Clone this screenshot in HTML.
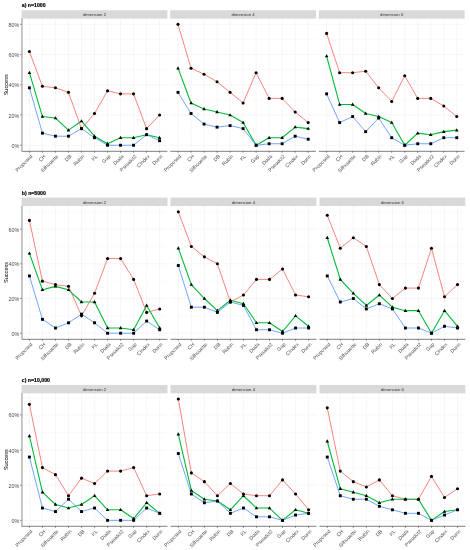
<!DOCTYPE html>
<html><head><meta charset="utf-8"><style>html,body{margin:0;padding:0;background:#fff;}svg{display:block;filter:blur(0.3px);}</style></head>
<body>
<svg width="470" height="550" viewBox="0 0 470 550">
<rect width="470" height="550" fill="#fff"/>
<text x="21.8" y="7.25" font-family="'Liberation Sans', Arial, sans-serif" font-weight="bold" font-size="5.2" fill="#000" stroke="#000" stroke-width="0.18">a) n=1000</text>
<path d="M21.6 130.14H167.4M21.6 99.91H167.4M21.6 69.69H167.4M21.6 39.46H167.4" stroke="#F6F6F6" stroke-width="0.5" fill="none"/>
<path d="M21.6 145.25H167.4M21.6 115.03H167.4M21.6 84.8H167.4M21.6 54.57H167.4M21.6 24.35H167.4M29.41 18.3V151.3M42.43 18.3V151.3M55.45 18.3V151.3M68.46 18.3V151.3M81.48 18.3V151.3M94.5 18.3V151.3M107.52 18.3V151.3M120.54 18.3V151.3M133.55 18.3V151.3M146.57 18.3V151.3M159.59 18.3V151.3" stroke="#F2F2F2" stroke-width="0.7" fill="none"/>
<rect x="21.6" y="10.25" width="145.8" height="8.4" fill="#D9D9D9"/>
<text x="94.5" y="16.27" text-anchor="middle" font-family="'Liberation Sans', Arial, sans-serif" font-size="4.3" fill="#333">dimension 2</text>
<path d="M21.6 151.3H167.4" stroke="#999" stroke-width="1.15" fill="none"/>
<path d="M29.41 151.3v1.4M42.43 151.3v1.4M55.45 151.3v1.4M68.46 151.3v1.4M81.48 151.3v1.4M94.5 151.3v1.4M107.52 151.3v1.4M120.54 151.3v1.4M133.55 151.3v1.4M146.57 151.3v1.4M159.59 151.3v1.4" stroke="#333" stroke-width="0.6" fill="none"/>
<text transform="translate(32.81 156.7) rotate(-45)" text-anchor="end" font-family="'Liberation Sans', Arial, sans-serif" font-size="5.1" fill="#4D4D4D">Proposed</text>
<text transform="translate(45.83 156.7) rotate(-45)" text-anchor="end" font-family="'Liberation Sans', Arial, sans-serif" font-size="5.1" fill="#4D4D4D">CH</text>
<text transform="translate(58.85 156.7) rotate(-45)" text-anchor="end" font-family="'Liberation Sans', Arial, sans-serif" font-size="5.1" fill="#4D4D4D">Silhouette</text>
<text transform="translate(71.86 156.7) rotate(-45)" text-anchor="end" font-family="'Liberation Sans', Arial, sans-serif" font-size="5.1" fill="#4D4D4D">DB</text>
<text transform="translate(84.88 156.7) rotate(-45)" text-anchor="end" font-family="'Liberation Sans', Arial, sans-serif" font-size="5.1" fill="#4D4D4D">Rubin</text>
<text transform="translate(97.9 156.7) rotate(-45)" text-anchor="end" font-family="'Liberation Sans', Arial, sans-serif" font-size="5.1" fill="#4D4D4D">KL</text>
<text transform="translate(110.92 156.7) rotate(-45)" text-anchor="end" font-family="'Liberation Sans', Arial, sans-serif" font-size="5.1" fill="#4D4D4D">Gap</text>
<text transform="translate(123.94 156.7) rotate(-45)" text-anchor="end" font-family="'Liberation Sans', Arial, sans-serif" font-size="5.1" fill="#4D4D4D">Duda</text>
<text transform="translate(136.95 156.7) rotate(-45)" text-anchor="end" font-family="'Liberation Sans', Arial, sans-serif" font-size="5.1" fill="#4D4D4D">Pseudot2</text>
<text transform="translate(149.97 156.7) rotate(-45)" text-anchor="end" font-family="'Liberation Sans', Arial, sans-serif" font-size="5.1" fill="#4D4D4D">Cindex</text>
<text transform="translate(162.99 156.7) rotate(-45)" text-anchor="end" font-family="'Liberation Sans', Arial, sans-serif" font-size="5.1" fill="#4D4D4D">Dunn</text>
<path d="M21.95 18.3V151.3" stroke="#A8A8A8" stroke-width="1.3" fill="none"/>
<text x="19.2" y="147.75" text-anchor="end" font-family="'Liberation Sans', Arial, sans-serif" font-size="5.3999999999999995" fill="#4D4D4D">0%</text>
<text x="19.2" y="117.53" text-anchor="end" font-family="'Liberation Sans', Arial, sans-serif" font-size="5.3999999999999995" fill="#4D4D4D">20%</text>
<text x="19.2" y="87.3" text-anchor="end" font-family="'Liberation Sans', Arial, sans-serif" font-size="5.3999999999999995" fill="#4D4D4D">40%</text>
<text x="19.2" y="57.07" text-anchor="end" font-family="'Liberation Sans', Arial, sans-serif" font-size="5.3999999999999995" fill="#4D4D4D">60%</text>
<text x="19.2" y="26.85" text-anchor="end" font-family="'Liberation Sans', Arial, sans-serif" font-size="5.3999999999999995" fill="#4D4D4D">80%</text>
<path d="M20.2 145.25h1.4M20.2 115.03h1.4M20.2 84.8h1.4M20.2 54.57h1.4M20.2 24.35h1.4" stroke="#333" stroke-width="0.6" fill="none"/>
<text transform="translate(7.9 84.8) rotate(-90)" text-anchor="middle" font-family="'Liberation Sans', Arial, sans-serif" font-size="5.6" fill="#000">Success</text>
<polyline points="29.41,51.55 42.43,86.31 55.45,87.82 68.46,92.36 81.48,128.63 94.5,113.52 107.52,90.85 120.54,93.87 133.55,93.87 146.57,128.63 159.59,115.03" stroke="#F8766D" stroke-width="0.9" fill="none" stroke-linejoin="round"/>
<polyline points="29.41,72.71 42.43,116.54 55.45,118.05 68.46,130.14 81.48,121.07 94.5,136.19 107.52,143.74 120.54,137.7 133.55,137.7 146.57,134.68 159.59,137.7" stroke="#00BA38" stroke-width="1.1" fill="none" stroke-linejoin="round"/>
<polyline points="29.41,87.82 42.43,133.16 55.45,136.19 68.46,136.19 81.48,128.63 94.5,137.7 107.52,145.25 120.54,145.25 133.55,145.25 146.57,134.68 159.59,140.72" stroke="#619CFF" stroke-width="0.9" fill="none" stroke-linejoin="round"/>
<circle cx="29.41" cy="51.55" r="1.55"/>
<circle cx="42.43" cy="86.31" r="1.55"/>
<circle cx="55.45" cy="87.82" r="1.55"/>
<circle cx="68.46" cy="92.36" r="1.55"/>
<circle cx="81.48" cy="128.63" r="1.55"/>
<circle cx="94.5" cy="113.52" r="1.55"/>
<circle cx="107.52" cy="90.85" r="1.55"/>
<circle cx="120.54" cy="93.87" r="1.55"/>
<circle cx="133.55" cy="93.87" r="1.55"/>
<circle cx="146.57" cy="128.63" r="1.55"/>
<circle cx="159.59" cy="115.03" r="1.55"/>
<path d="M29.41 70.81L31.22 73.94L27.61 73.94Z"/>
<path d="M42.43 114.64L44.23 117.77L40.62 117.77Z"/>
<path d="M55.45 116.15L57.25 119.29L53.64 119.29Z"/>
<path d="M68.46 128.24L70.27 131.38L66.66 131.38Z"/>
<path d="M81.48 119.17L83.29 122.31L79.68 122.31Z"/>
<path d="M94.5 134.29L96.31 137.42L92.69 137.42Z"/>
<path d="M107.52 141.84L109.32 144.98L105.71 144.98Z"/>
<path d="M120.54 135.8L122.34 138.93L118.73 138.93Z"/>
<path d="M133.55 135.8L135.36 138.93L131.75 138.93Z"/>
<path d="M146.57 132.78L148.38 135.91L144.77 135.91Z"/>
<path d="M159.59 135.8L161.39 138.93L157.78 138.93Z"/>
<rect x="27.96" y="86.37" width="2.9" height="2.9"/>
<rect x="40.98" y="131.71" width="2.9" height="2.9"/>
<rect x="54" y="134.74" width="2.9" height="2.9"/>
<rect x="67.01" y="134.74" width="2.9" height="2.9"/>
<rect x="80.03" y="127.18" width="2.9" height="2.9"/>
<rect x="93.05" y="136.25" width="2.9" height="2.9"/>
<rect x="106.07" y="143.8" width="2.9" height="2.9"/>
<rect x="119.09" y="143.8" width="2.9" height="2.9"/>
<rect x="132.1" y="143.8" width="2.9" height="2.9"/>
<rect x="145.12" y="133.23" width="2.9" height="2.9"/>
<rect x="158.14" y="139.27" width="2.9" height="2.9"/>
<path d="M170.2 130.14H316M170.2 99.91H316M170.2 69.69H316M170.2 39.46H316" stroke="#F6F6F6" stroke-width="0.5" fill="none"/>
<path d="M170.2 145.25H316M170.2 115.03H316M170.2 84.8H316M170.2 54.57H316M170.2 24.35H316M178.01 18.3V151.3M191.03 18.3V151.3M204.05 18.3V151.3M217.06 18.3V151.3M230.08 18.3V151.3M243.1 18.3V151.3M256.12 18.3V151.3M269.14 18.3V151.3M282.15 18.3V151.3M295.17 18.3V151.3M308.19 18.3V151.3" stroke="#F2F2F2" stroke-width="0.7" fill="none"/>
<rect x="170.2" y="10.25" width="145.8" height="8.4" fill="#D9D9D9"/>
<text x="243.1" y="16.27" text-anchor="middle" font-family="'Liberation Sans', Arial, sans-serif" font-size="4.3" fill="#333">dimension 4</text>
<path d="M170.2 151.3H316" stroke="#999" stroke-width="1.15" fill="none"/>
<path d="M178.01 151.3v1.4M191.03 151.3v1.4M204.05 151.3v1.4M217.06 151.3v1.4M230.08 151.3v1.4M243.1 151.3v1.4M256.12 151.3v1.4M269.14 151.3v1.4M282.15 151.3v1.4M295.17 151.3v1.4M308.19 151.3v1.4" stroke="#333" stroke-width="0.6" fill="none"/>
<text transform="translate(181.41 156.7) rotate(-45)" text-anchor="end" font-family="'Liberation Sans', Arial, sans-serif" font-size="5.1" fill="#4D4D4D">Proposed</text>
<text transform="translate(194.43 156.7) rotate(-45)" text-anchor="end" font-family="'Liberation Sans', Arial, sans-serif" font-size="5.1" fill="#4D4D4D">CH</text>
<text transform="translate(207.45 156.7) rotate(-45)" text-anchor="end" font-family="'Liberation Sans', Arial, sans-serif" font-size="5.1" fill="#4D4D4D">Silhouette</text>
<text transform="translate(220.46 156.7) rotate(-45)" text-anchor="end" font-family="'Liberation Sans', Arial, sans-serif" font-size="5.1" fill="#4D4D4D">DB</text>
<text transform="translate(233.48 156.7) rotate(-45)" text-anchor="end" font-family="'Liberation Sans', Arial, sans-serif" font-size="5.1" fill="#4D4D4D">Rubin</text>
<text transform="translate(246.5 156.7) rotate(-45)" text-anchor="end" font-family="'Liberation Sans', Arial, sans-serif" font-size="5.1" fill="#4D4D4D">KL</text>
<text transform="translate(259.52 156.7) rotate(-45)" text-anchor="end" font-family="'Liberation Sans', Arial, sans-serif" font-size="5.1" fill="#4D4D4D">Gap</text>
<text transform="translate(272.54 156.7) rotate(-45)" text-anchor="end" font-family="'Liberation Sans', Arial, sans-serif" font-size="5.1" fill="#4D4D4D">Duda</text>
<text transform="translate(285.55 156.7) rotate(-45)" text-anchor="end" font-family="'Liberation Sans', Arial, sans-serif" font-size="5.1" fill="#4D4D4D">Pseudot2</text>
<text transform="translate(298.57 156.7) rotate(-45)" text-anchor="end" font-family="'Liberation Sans', Arial, sans-serif" font-size="5.1" fill="#4D4D4D">Cindex</text>
<text transform="translate(311.59 156.7) rotate(-45)" text-anchor="end" font-family="'Liberation Sans', Arial, sans-serif" font-size="5.1" fill="#4D4D4D">Dunn</text>
<polyline points="178.01,24.35 191.03,68.18 204.05,74.22 217.06,81.78 230.08,92.36 243.1,102.94 256.12,72.71 269.14,98.4 282.15,98.4 295.17,112 308.19,122.58" stroke="#F8766D" stroke-width="0.9" fill="none" stroke-linejoin="round"/>
<polyline points="178.01,68.18 191.03,102.94 204.05,108.98 217.06,112 230.08,115.03 243.1,122.58 256.12,145.25 269.14,137.7 282.15,137.7 295.17,127.12 308.19,128.63" stroke="#00BA38" stroke-width="1.1" fill="none" stroke-linejoin="round"/>
<polyline points="178.01,92.36 191.03,113.52 204.05,124.1 217.06,127.12 230.08,125.61 243.1,128.63 256.12,145.25 269.14,143.74 282.15,143.74 295.17,136.19 308.19,139.21" stroke="#619CFF" stroke-width="0.9" fill="none" stroke-linejoin="round"/>
<circle cx="178.01" cy="24.35" r="1.55"/>
<circle cx="191.03" cy="68.18" r="1.55"/>
<circle cx="204.05" cy="74.22" r="1.55"/>
<circle cx="217.06" cy="81.78" r="1.55"/>
<circle cx="230.08" cy="92.36" r="1.55"/>
<circle cx="243.1" cy="102.94" r="1.55"/>
<circle cx="256.12" cy="72.71" r="1.55"/>
<circle cx="269.14" cy="98.4" r="1.55"/>
<circle cx="282.15" cy="98.4" r="1.55"/>
<circle cx="295.17" cy="112" r="1.55"/>
<circle cx="308.19" cy="122.58" r="1.55"/>
<path d="M178.01 66.28L179.82 69.41L176.21 69.41Z"/>
<path d="M191.03 101.04L192.83 104.17L189.22 104.17Z"/>
<path d="M204.05 107.08L205.85 110.22L202.24 110.22Z"/>
<path d="M217.06 110.1L218.87 113.24L215.26 113.24Z"/>
<path d="M230.08 113.13L231.89 116.26L228.28 116.26Z"/>
<path d="M243.1 120.68L244.91 123.82L241.29 123.82Z"/>
<path d="M256.12 143.35L257.92 146.49L254.31 146.49Z"/>
<path d="M269.14 135.8L270.94 138.93L267.33 138.93Z"/>
<path d="M282.15 135.8L283.96 138.93L280.35 138.93Z"/>
<path d="M295.17 125.22L296.98 128.35L293.37 128.35Z"/>
<path d="M308.19 126.73L309.99 129.86L306.38 129.86Z"/>
<rect x="176.56" y="90.91" width="2.9" height="2.9"/>
<rect x="189.58" y="112.07" width="2.9" height="2.9"/>
<rect x="202.6" y="122.65" width="2.9" height="2.9"/>
<rect x="215.61" y="125.67" width="2.9" height="2.9"/>
<rect x="228.63" y="124.16" width="2.9" height="2.9"/>
<rect x="241.65" y="127.18" width="2.9" height="2.9"/>
<rect x="254.67" y="143.8" width="2.9" height="2.9"/>
<rect x="267.69" y="142.29" width="2.9" height="2.9"/>
<rect x="280.7" y="142.29" width="2.9" height="2.9"/>
<rect x="293.72" y="134.74" width="2.9" height="2.9"/>
<rect x="306.74" y="137.76" width="2.9" height="2.9"/>
<path d="M318.8 130.14H464.6M318.8 99.91H464.6M318.8 69.69H464.6M318.8 39.46H464.6" stroke="#F6F6F6" stroke-width="0.5" fill="none"/>
<path d="M318.8 145.25H464.6M318.8 115.03H464.6M318.8 84.8H464.6M318.8 54.57H464.6M318.8 24.35H464.6M326.61 18.3V151.3M339.63 18.3V151.3M352.65 18.3V151.3M365.66 18.3V151.3M378.68 18.3V151.3M391.7 18.3V151.3M404.72 18.3V151.3M417.74 18.3V151.3M430.75 18.3V151.3M443.77 18.3V151.3M456.79 18.3V151.3" stroke="#F2F2F2" stroke-width="0.7" fill="none"/>
<rect x="318.8" y="10.25" width="145.8" height="8.4" fill="#D9D9D9"/>
<text x="391.7" y="16.27" text-anchor="middle" font-family="'Liberation Sans', Arial, sans-serif" font-size="4.3" fill="#333">dimension 6</text>
<path d="M318.8 151.3H464.6" stroke="#999" stroke-width="1.15" fill="none"/>
<path d="M326.61 151.3v1.4M339.63 151.3v1.4M352.65 151.3v1.4M365.66 151.3v1.4M378.68 151.3v1.4M391.7 151.3v1.4M404.72 151.3v1.4M417.74 151.3v1.4M430.75 151.3v1.4M443.77 151.3v1.4M456.79 151.3v1.4" stroke="#333" stroke-width="0.6" fill="none"/>
<text transform="translate(330.01 156.7) rotate(-45)" text-anchor="end" font-family="'Liberation Sans', Arial, sans-serif" font-size="5.1" fill="#4D4D4D">Proposed</text>
<text transform="translate(343.03 156.7) rotate(-45)" text-anchor="end" font-family="'Liberation Sans', Arial, sans-serif" font-size="5.1" fill="#4D4D4D">CH</text>
<text transform="translate(356.05 156.7) rotate(-45)" text-anchor="end" font-family="'Liberation Sans', Arial, sans-serif" font-size="5.1" fill="#4D4D4D">Silhouette</text>
<text transform="translate(369.06 156.7) rotate(-45)" text-anchor="end" font-family="'Liberation Sans', Arial, sans-serif" font-size="5.1" fill="#4D4D4D">DB</text>
<text transform="translate(382.08 156.7) rotate(-45)" text-anchor="end" font-family="'Liberation Sans', Arial, sans-serif" font-size="5.1" fill="#4D4D4D">Rubin</text>
<text transform="translate(395.1 156.7) rotate(-45)" text-anchor="end" font-family="'Liberation Sans', Arial, sans-serif" font-size="5.1" fill="#4D4D4D">KL</text>
<text transform="translate(408.12 156.7) rotate(-45)" text-anchor="end" font-family="'Liberation Sans', Arial, sans-serif" font-size="5.1" fill="#4D4D4D">Gap</text>
<text transform="translate(421.14 156.7) rotate(-45)" text-anchor="end" font-family="'Liberation Sans', Arial, sans-serif" font-size="5.1" fill="#4D4D4D">Duda</text>
<text transform="translate(434.15 156.7) rotate(-45)" text-anchor="end" font-family="'Liberation Sans', Arial, sans-serif" font-size="5.1" fill="#4D4D4D">Pseudot2</text>
<text transform="translate(447.17 156.7) rotate(-45)" text-anchor="end" font-family="'Liberation Sans', Arial, sans-serif" font-size="5.1" fill="#4D4D4D">Cindex</text>
<text transform="translate(460.19 156.7) rotate(-45)" text-anchor="end" font-family="'Liberation Sans', Arial, sans-serif" font-size="5.1" fill="#4D4D4D">Dunn</text>
<polyline points="326.61,33.41 339.63,72.71 352.65,72.71 365.66,71.2 378.68,87.82 391.7,101.43 404.72,75.73 417.74,98.4 430.75,98.4 443.77,105.96 456.79,116.54" stroke="#F8766D" stroke-width="0.9" fill="none" stroke-linejoin="round"/>
<polyline points="326.61,56.08 339.63,104.45 352.65,104.45 365.66,113.52 378.68,116.54 391.7,122.58 404.72,145.25 417.74,133.16 430.75,134.68 443.77,131.65 456.79,130.14" stroke="#00BA38" stroke-width="1.1" fill="none" stroke-linejoin="round"/>
<polyline points="326.61,93.87 339.63,122.58 352.65,116.54 365.66,131.65 378.68,118.05 391.7,137.7 404.72,145.25 417.74,143.74 430.75,143.74 443.77,137.7 456.79,137.7" stroke="#619CFF" stroke-width="0.9" fill="none" stroke-linejoin="round"/>
<circle cx="326.61" cy="33.41" r="1.55"/>
<circle cx="339.63" cy="72.71" r="1.55"/>
<circle cx="352.65" cy="72.71" r="1.55"/>
<circle cx="365.66" cy="71.2" r="1.55"/>
<circle cx="378.68" cy="87.82" r="1.55"/>
<circle cx="391.7" cy="101.43" r="1.55"/>
<circle cx="404.72" cy="75.73" r="1.55"/>
<circle cx="417.74" cy="98.4" r="1.55"/>
<circle cx="430.75" cy="98.4" r="1.55"/>
<circle cx="443.77" cy="105.96" r="1.55"/>
<circle cx="456.79" cy="116.54" r="1.55"/>
<path d="M326.61 54.18L328.42 57.32L324.81 57.32Z"/>
<path d="M339.63 102.55L341.43 105.68L337.82 105.68Z"/>
<path d="M352.65 102.55L354.45 105.68L350.84 105.68Z"/>
<path d="M365.66 111.62L367.47 114.75L363.86 114.75Z"/>
<path d="M378.68 114.64L380.49 117.77L376.88 117.77Z"/>
<path d="M391.7 120.68L393.51 123.82L389.9 123.82Z"/>
<path d="M404.72 143.35L406.52 146.49L402.91 146.49Z"/>
<path d="M417.74 131.26L419.54 134.4L415.93 134.4Z"/>
<path d="M430.75 132.78L432.56 135.91L428.95 135.91Z"/>
<path d="M443.77 129.75L445.58 132.89L441.97 132.89Z"/>
<path d="M456.79 128.24L458.59 131.38L454.98 131.38Z"/>
<rect x="325.16" y="92.42" width="2.9" height="2.9"/>
<rect x="338.18" y="121.13" width="2.9" height="2.9"/>
<rect x="351.2" y="115.09" width="2.9" height="2.9"/>
<rect x="364.21" y="130.2" width="2.9" height="2.9"/>
<rect x="377.23" y="116.6" width="2.9" height="2.9"/>
<rect x="390.25" y="136.25" width="2.9" height="2.9"/>
<rect x="403.27" y="143.8" width="2.9" height="2.9"/>
<rect x="416.29" y="142.29" width="2.9" height="2.9"/>
<rect x="429.3" y="142.29" width="2.9" height="2.9"/>
<rect x="442.32" y="136.25" width="2.9" height="2.9"/>
<rect x="455.34" y="136.25" width="2.9" height="2.9"/>
<text x="21.8" y="194.6" font-family="'Liberation Sans', Arial, sans-serif" font-weight="bold" font-size="5.2" fill="#000" stroke="#000" stroke-width="0.18">b) n=5000</text>
<path d="M21.6 315.87H167.5M21.6 281.15H167.5M21.6 246.44H167.5M21.6 211.72H167.5" stroke="#F6F6F6" stroke-width="0.5" fill="none"/>
<path d="M21.6 333.23H167.5M21.6 298.51H167.5M21.6 263.8H167.5M21.6 229.08H167.5M29.42 205.65V339.3M42.44 205.65V339.3M55.47 205.65V339.3M68.5 205.65V339.3M81.52 205.65V339.3M94.55 205.65V339.3M107.58 205.65V339.3M120.6 205.65V339.3M133.63 205.65V339.3M146.66 205.65V339.3M159.68 205.65V339.3" stroke="#F2F2F2" stroke-width="0.7" fill="none"/>
<rect x="21.6" y="197.6" width="145.9" height="8.4" fill="#D9D9D9"/>
<text x="94.55" y="203.62" text-anchor="middle" font-family="'Liberation Sans', Arial, sans-serif" font-size="4.3" fill="#333">dimension 2</text>
<path d="M21.6 339.3H167.5" stroke="#999" stroke-width="1.15" fill="none"/>
<path d="M29.42 339.3v1.4M42.44 339.3v1.4M55.47 339.3v1.4M68.5 339.3v1.4M81.52 339.3v1.4M94.55 339.3v1.4M107.58 339.3v1.4M120.6 339.3v1.4M133.63 339.3v1.4M146.66 339.3v1.4M159.68 339.3v1.4" stroke="#333" stroke-width="0.6" fill="none"/>
<text transform="translate(32.82 344.7) rotate(-45)" text-anchor="end" font-family="'Liberation Sans', Arial, sans-serif" font-size="5.1" fill="#4D4D4D">Proposed</text>
<text transform="translate(45.84 344.7) rotate(-45)" text-anchor="end" font-family="'Liberation Sans', Arial, sans-serif" font-size="5.1" fill="#4D4D4D">CH</text>
<text transform="translate(58.87 344.7) rotate(-45)" text-anchor="end" font-family="'Liberation Sans', Arial, sans-serif" font-size="5.1" fill="#4D4D4D">Silhouette</text>
<text transform="translate(71.9 344.7) rotate(-45)" text-anchor="end" font-family="'Liberation Sans', Arial, sans-serif" font-size="5.1" fill="#4D4D4D">DB</text>
<text transform="translate(84.92 344.7) rotate(-45)" text-anchor="end" font-family="'Liberation Sans', Arial, sans-serif" font-size="5.1" fill="#4D4D4D">Rubin</text>
<text transform="translate(97.95 344.7) rotate(-45)" text-anchor="end" font-family="'Liberation Sans', Arial, sans-serif" font-size="5.1" fill="#4D4D4D">KL</text>
<text transform="translate(110.98 344.7) rotate(-45)" text-anchor="end" font-family="'Liberation Sans', Arial, sans-serif" font-size="5.1" fill="#4D4D4D">Duda</text>
<text transform="translate(124 344.7) rotate(-45)" text-anchor="end" font-family="'Liberation Sans', Arial, sans-serif" font-size="5.1" fill="#4D4D4D">Pseudot2</text>
<text transform="translate(137.03 344.7) rotate(-45)" text-anchor="end" font-family="'Liberation Sans', Arial, sans-serif" font-size="5.1" fill="#4D4D4D">Gap</text>
<text transform="translate(150.06 344.7) rotate(-45)" text-anchor="end" font-family="'Liberation Sans', Arial, sans-serif" font-size="5.1" fill="#4D4D4D">Cindex</text>
<text transform="translate(163.08 344.7) rotate(-45)" text-anchor="end" font-family="'Liberation Sans', Arial, sans-serif" font-size="5.1" fill="#4D4D4D">Dunn</text>
<path d="M21.95 205.65V339.3" stroke="#A8A8A8" stroke-width="1.3" fill="none"/>
<text x="19.2" y="335.73" text-anchor="end" font-family="'Liberation Sans', Arial, sans-serif" font-size="5.3999999999999995" fill="#4D4D4D">0%</text>
<text x="19.2" y="301.01" text-anchor="end" font-family="'Liberation Sans', Arial, sans-serif" font-size="5.3999999999999995" fill="#4D4D4D">20%</text>
<text x="19.2" y="266.3" text-anchor="end" font-family="'Liberation Sans', Arial, sans-serif" font-size="5.3999999999999995" fill="#4D4D4D">40%</text>
<text x="19.2" y="231.58" text-anchor="end" font-family="'Liberation Sans', Arial, sans-serif" font-size="5.3999999999999995" fill="#4D4D4D">60%</text>
<path d="M20.2 333.23h1.4M20.2 298.51h1.4M20.2 263.8h1.4M20.2 229.08h1.4" stroke="#333" stroke-width="0.6" fill="none"/>
<text transform="translate(7.9 272.48) rotate(-90)" text-anchor="middle" font-family="'Liberation Sans', Arial, sans-serif" font-size="5.6" fill="#000">Success</text>
<polyline points="29.42,220.4 42.44,281.15 55.47,284.62 68.5,286.36 81.52,315.87 94.55,293.3 107.58,258.59 120.6,258.59 133.63,279.42 146.66,312.4 159.68,308.93" stroke="#F8766D" stroke-width="0.9" fill="none" stroke-linejoin="round"/>
<polyline points="29.42,253.38 42.44,289.83 55.47,286.36 68.5,289.83 81.52,301.98 94.55,301.98 107.58,328.02 120.6,328.02 133.63,329.75 146.66,305.45 159.68,328.02" stroke="#00BA38" stroke-width="1.1" fill="none" stroke-linejoin="round"/>
<polyline points="29.42,275.95 42.44,319.34 55.47,328.02 68.5,322.81 81.52,314.13 94.55,322.81 107.58,333.23 120.6,333.23 133.63,333.23 146.66,321.07 159.68,329.75" stroke="#619CFF" stroke-width="0.9" fill="none" stroke-linejoin="round"/>
<circle cx="29.42" cy="220.4" r="1.55"/>
<circle cx="42.44" cy="281.15" r="1.55"/>
<circle cx="55.47" cy="284.62" r="1.55"/>
<circle cx="68.5" cy="286.36" r="1.55"/>
<circle cx="81.52" cy="315.87" r="1.55"/>
<circle cx="94.55" cy="293.3" r="1.55"/>
<circle cx="107.58" cy="258.59" r="1.55"/>
<circle cx="120.6" cy="258.59" r="1.55"/>
<circle cx="133.63" cy="279.42" r="1.55"/>
<circle cx="146.66" cy="312.4" r="1.55"/>
<circle cx="159.68" cy="308.93" r="1.55"/>
<path d="M29.42 251.48L31.22 254.62L27.61 254.62Z"/>
<path d="M42.44 287.93L44.25 291.07L40.64 291.07Z"/>
<path d="M55.47 284.46L57.27 287.6L53.66 287.6Z"/>
<path d="M68.5 287.93L70.3 291.07L66.69 291.07Z"/>
<path d="M81.52 300.08L83.33 303.22L79.72 303.22Z"/>
<path d="M94.55 300.08L96.36 303.22L92.75 303.22Z"/>
<path d="M107.58 326.12L109.38 329.25L105.77 329.25Z"/>
<path d="M120.6 326.12L122.41 329.25L118.8 329.25Z"/>
<path d="M133.63 327.85L135.44 330.99L131.83 330.99Z"/>
<path d="M146.66 303.55L148.46 306.69L144.85 306.69Z"/>
<path d="M159.68 326.12L161.49 329.25L157.88 329.25Z"/>
<rect x="27.97" y="274.5" width="2.9" height="2.9"/>
<rect x="40.99" y="317.89" width="2.9" height="2.9"/>
<rect x="54.02" y="326.57" width="2.9" height="2.9"/>
<rect x="67.05" y="321.36" width="2.9" height="2.9"/>
<rect x="80.07" y="312.68" width="2.9" height="2.9"/>
<rect x="93.1" y="321.36" width="2.9" height="2.9"/>
<rect x="106.13" y="331.78" width="2.9" height="2.9"/>
<rect x="119.15" y="331.78" width="2.9" height="2.9"/>
<rect x="132.18" y="331.78" width="2.9" height="2.9"/>
<rect x="145.21" y="319.62" width="2.9" height="2.9"/>
<rect x="158.23" y="328.3" width="2.9" height="2.9"/>
<path d="M170.5 315.87H316.4M170.5 281.15H316.4M170.5 246.44H316.4M170.5 211.72H316.4" stroke="#F6F6F6" stroke-width="0.5" fill="none"/>
<path d="M170.5 333.23H316.4M170.5 298.51H316.4M170.5 263.8H316.4M170.5 229.08H316.4M178.32 205.65V339.3M191.34 205.65V339.3M204.37 205.65V339.3M217.4 205.65V339.3M230.42 205.65V339.3M243.45 205.65V339.3M256.48 205.65V339.3M269.5 205.65V339.3M282.53 205.65V339.3M295.56 205.65V339.3M308.58 205.65V339.3" stroke="#F2F2F2" stroke-width="0.7" fill="none"/>
<rect x="170.5" y="197.6" width="145.9" height="8.4" fill="#D9D9D9"/>
<text x="243.45" y="203.62" text-anchor="middle" font-family="'Liberation Sans', Arial, sans-serif" font-size="4.3" fill="#333">dimension 4</text>
<path d="M170.5 339.3H316.4" stroke="#999" stroke-width="1.15" fill="none"/>
<path d="M178.32 339.3v1.4M191.34 339.3v1.4M204.37 339.3v1.4M217.4 339.3v1.4M230.42 339.3v1.4M243.45 339.3v1.4M256.48 339.3v1.4M269.5 339.3v1.4M282.53 339.3v1.4M295.56 339.3v1.4M308.58 339.3v1.4" stroke="#333" stroke-width="0.6" fill="none"/>
<text transform="translate(181.72 344.7) rotate(-45)" text-anchor="end" font-family="'Liberation Sans', Arial, sans-serif" font-size="5.1" fill="#4D4D4D">Proposed</text>
<text transform="translate(194.74 344.7) rotate(-45)" text-anchor="end" font-family="'Liberation Sans', Arial, sans-serif" font-size="5.1" fill="#4D4D4D">CH</text>
<text transform="translate(207.77 344.7) rotate(-45)" text-anchor="end" font-family="'Liberation Sans', Arial, sans-serif" font-size="5.1" fill="#4D4D4D">Silhouette</text>
<text transform="translate(220.8 344.7) rotate(-45)" text-anchor="end" font-family="'Liberation Sans', Arial, sans-serif" font-size="5.1" fill="#4D4D4D">DB</text>
<text transform="translate(233.82 344.7) rotate(-45)" text-anchor="end" font-family="'Liberation Sans', Arial, sans-serif" font-size="5.1" fill="#4D4D4D">Rubin</text>
<text transform="translate(246.85 344.7) rotate(-45)" text-anchor="end" font-family="'Liberation Sans', Arial, sans-serif" font-size="5.1" fill="#4D4D4D">KL</text>
<text transform="translate(259.88 344.7) rotate(-45)" text-anchor="end" font-family="'Liberation Sans', Arial, sans-serif" font-size="5.1" fill="#4D4D4D">Duda</text>
<text transform="translate(272.9 344.7) rotate(-45)" text-anchor="end" font-family="'Liberation Sans', Arial, sans-serif" font-size="5.1" fill="#4D4D4D">Pseudot2</text>
<text transform="translate(285.93 344.7) rotate(-45)" text-anchor="end" font-family="'Liberation Sans', Arial, sans-serif" font-size="5.1" fill="#4D4D4D">Gap</text>
<text transform="translate(298.96 344.7) rotate(-45)" text-anchor="end" font-family="'Liberation Sans', Arial, sans-serif" font-size="5.1" fill="#4D4D4D">Cindex</text>
<text transform="translate(311.98 344.7) rotate(-45)" text-anchor="end" font-family="'Liberation Sans', Arial, sans-serif" font-size="5.1" fill="#4D4D4D">Dunn</text>
<polyline points="178.32,211.72 191.34,246.44 204.37,256.85 217.4,263.8 230.42,301.98 243.45,295.04 256.48,279.42 269.5,279.42 282.53,269 295.56,295.04 308.58,296.78" stroke="#F8766D" stroke-width="0.9" fill="none" stroke-linejoin="round"/>
<polyline points="178.32,248.18 191.34,284.62 204.37,298.51 217.4,310.66 230.42,300.25 243.45,303.72 256.48,322.81 269.5,322.81 282.53,331.49 295.56,315.87 308.58,326.28" stroke="#00BA38" stroke-width="1.1" fill="none" stroke-linejoin="round"/>
<polyline points="178.32,265.53 191.34,307.19 204.37,307.19 217.4,312.4 230.42,301.98 243.45,305.45 256.48,329.75 269.5,329.75 282.53,333.23 295.56,328.02 308.58,328.02" stroke="#619CFF" stroke-width="0.9" fill="none" stroke-linejoin="round"/>
<circle cx="178.32" cy="211.72" r="1.55"/>
<circle cx="191.34" cy="246.44" r="1.55"/>
<circle cx="204.37" cy="256.85" r="1.55"/>
<circle cx="217.4" cy="263.8" r="1.55"/>
<circle cx="230.42" cy="301.98" r="1.55"/>
<circle cx="243.45" cy="295.04" r="1.55"/>
<circle cx="256.48" cy="279.42" r="1.55"/>
<circle cx="269.5" cy="279.42" r="1.55"/>
<circle cx="282.53" cy="269" r="1.55"/>
<circle cx="295.56" cy="295.04" r="1.55"/>
<circle cx="308.58" cy="296.78" r="1.55"/>
<path d="M178.32 246.28L180.12 249.41L176.51 249.41Z"/>
<path d="M191.34 282.73L193.15 285.86L189.54 285.86Z"/>
<path d="M204.37 296.61L206.17 299.75L202.56 299.75Z"/>
<path d="M217.4 308.76L219.2 311.9L215.59 311.9Z"/>
<path d="M230.42 298.35L232.23 301.48L228.62 301.48Z"/>
<path d="M243.45 301.82L245.25 304.95L241.64 304.95Z"/>
<path d="M256.48 320.91L258.28 324.05L254.67 324.05Z"/>
<path d="M269.5 320.91L271.31 324.05L267.7 324.05Z"/>
<path d="M282.53 329.59L284.34 332.72L280.73 332.72Z"/>
<path d="M295.56 313.97L297.36 317.1L293.75 317.1Z"/>
<path d="M308.58 324.38L310.39 327.52L306.78 327.52Z"/>
<rect x="176.87" y="264.08" width="2.9" height="2.9"/>
<rect x="189.89" y="305.74" width="2.9" height="2.9"/>
<rect x="202.92" y="305.74" width="2.9" height="2.9"/>
<rect x="215.95" y="310.95" width="2.9" height="2.9"/>
<rect x="228.97" y="300.53" width="2.9" height="2.9"/>
<rect x="242" y="304" width="2.9" height="2.9"/>
<rect x="255.03" y="328.3" width="2.9" height="2.9"/>
<rect x="268.05" y="328.3" width="2.9" height="2.9"/>
<rect x="281.08" y="331.78" width="2.9" height="2.9"/>
<rect x="294.11" y="326.57" width="2.9" height="2.9"/>
<rect x="307.13" y="326.57" width="2.9" height="2.9"/>
<path d="M319.45 315.87H465.35M319.45 281.15H465.35M319.45 246.44H465.35M319.45 211.72H465.35" stroke="#F6F6F6" stroke-width="0.5" fill="none"/>
<path d="M319.45 333.23H465.35M319.45 298.51H465.35M319.45 263.8H465.35M319.45 229.08H465.35M327.27 205.65V339.3M340.29 205.65V339.3M353.32 205.65V339.3M366.35 205.65V339.3M379.37 205.65V339.3M392.4 205.65V339.3M405.43 205.65V339.3M418.45 205.65V339.3M431.48 205.65V339.3M444.51 205.65V339.3M457.53 205.65V339.3" stroke="#F2F2F2" stroke-width="0.7" fill="none"/>
<rect x="319.45" y="197.6" width="145.9" height="8.4" fill="#D9D9D9"/>
<text x="392.4" y="203.62" text-anchor="middle" font-family="'Liberation Sans', Arial, sans-serif" font-size="4.3" fill="#333">dimension 6</text>
<path d="M319.45 339.3H465.35" stroke="#999" stroke-width="1.15" fill="none"/>
<path d="M327.27 339.3v1.4M340.29 339.3v1.4M353.32 339.3v1.4M366.35 339.3v1.4M379.37 339.3v1.4M392.4 339.3v1.4M405.43 339.3v1.4M418.45 339.3v1.4M431.48 339.3v1.4M444.51 339.3v1.4M457.53 339.3v1.4" stroke="#333" stroke-width="0.6" fill="none"/>
<text transform="translate(330.67 344.7) rotate(-45)" text-anchor="end" font-family="'Liberation Sans', Arial, sans-serif" font-size="5.1" fill="#4D4D4D">Proposed</text>
<text transform="translate(343.69 344.7) rotate(-45)" text-anchor="end" font-family="'Liberation Sans', Arial, sans-serif" font-size="5.1" fill="#4D4D4D">CH</text>
<text transform="translate(356.72 344.7) rotate(-45)" text-anchor="end" font-family="'Liberation Sans', Arial, sans-serif" font-size="5.1" fill="#4D4D4D">Silhouette</text>
<text transform="translate(369.75 344.7) rotate(-45)" text-anchor="end" font-family="'Liberation Sans', Arial, sans-serif" font-size="5.1" fill="#4D4D4D">DB</text>
<text transform="translate(382.77 344.7) rotate(-45)" text-anchor="end" font-family="'Liberation Sans', Arial, sans-serif" font-size="5.1" fill="#4D4D4D">Rubin</text>
<text transform="translate(395.8 344.7) rotate(-45)" text-anchor="end" font-family="'Liberation Sans', Arial, sans-serif" font-size="5.1" fill="#4D4D4D">KL</text>
<text transform="translate(408.83 344.7) rotate(-45)" text-anchor="end" font-family="'Liberation Sans', Arial, sans-serif" font-size="5.1" fill="#4D4D4D">Duda</text>
<text transform="translate(421.85 344.7) rotate(-45)" text-anchor="end" font-family="'Liberation Sans', Arial, sans-serif" font-size="5.1" fill="#4D4D4D">Pseudot2</text>
<text transform="translate(434.88 344.7) rotate(-45)" text-anchor="end" font-family="'Liberation Sans', Arial, sans-serif" font-size="5.1" fill="#4D4D4D">Gap</text>
<text transform="translate(447.91 344.7) rotate(-45)" text-anchor="end" font-family="'Liberation Sans', Arial, sans-serif" font-size="5.1" fill="#4D4D4D">Cindex</text>
<text transform="translate(460.93 344.7) rotate(-45)" text-anchor="end" font-family="'Liberation Sans', Arial, sans-serif" font-size="5.1" fill="#4D4D4D">Dunn</text>
<polyline points="327.27,215.2 340.29,248.18 353.32,237.76 366.35,246.44 379.37,284.62 392.4,298.51 405.43,288.1 418.45,288.1 431.48,248.18 444.51,296.78 457.53,284.62" stroke="#F8766D" stroke-width="0.9" fill="none" stroke-linejoin="round"/>
<polyline points="327.27,237.76 340.29,279.42 353.32,293.3 366.35,305.45 379.37,295.04 392.4,307.19 405.43,310.66 418.45,310.66 431.48,333.23 444.51,310.66 457.53,326.28" stroke="#00BA38" stroke-width="1.1" fill="none" stroke-linejoin="round"/>
<polyline points="327.27,275.95 340.29,301.98 353.32,298.51 366.35,308.93 379.37,303.72 392.4,308.93 405.43,328.02 418.45,328.02 431.48,333.23 444.51,326.28 457.53,328.02" stroke="#619CFF" stroke-width="0.9" fill="none" stroke-linejoin="round"/>
<circle cx="327.27" cy="215.2" r="1.55"/>
<circle cx="340.29" cy="248.18" r="1.55"/>
<circle cx="353.32" cy="237.76" r="1.55"/>
<circle cx="366.35" cy="246.44" r="1.55"/>
<circle cx="379.37" cy="284.62" r="1.55"/>
<circle cx="392.4" cy="298.51" r="1.55"/>
<circle cx="405.43" cy="288.1" r="1.55"/>
<circle cx="418.45" cy="288.1" r="1.55"/>
<circle cx="431.48" cy="248.18" r="1.55"/>
<circle cx="444.51" cy="296.78" r="1.55"/>
<circle cx="457.53" cy="284.62" r="1.55"/>
<path d="M327.27 235.86L329.07 239L325.46 239Z"/>
<path d="M340.29 277.52L342.1 280.65L338.49 280.65Z"/>
<path d="M353.32 291.4L355.12 294.54L351.51 294.54Z"/>
<path d="M366.35 303.55L368.15 306.69L364.54 306.69Z"/>
<path d="M379.37 293.14L381.18 296.27L377.57 296.27Z"/>
<path d="M392.4 305.29L394.2 308.42L390.59 308.42Z"/>
<path d="M405.43 308.76L407.23 311.9L403.62 311.9Z"/>
<path d="M418.45 308.76L420.26 311.9L416.65 311.9Z"/>
<path d="M431.48 331.33L433.29 334.46L429.68 334.46Z"/>
<path d="M444.51 308.76L446.31 311.9L442.7 311.9Z"/>
<path d="M457.53 324.38L459.34 327.52L455.73 327.52Z"/>
<rect x="325.82" y="274.5" width="2.9" height="2.9"/>
<rect x="338.84" y="300.53" width="2.9" height="2.9"/>
<rect x="351.87" y="297.06" width="2.9" height="2.9"/>
<rect x="364.9" y="307.48" width="2.9" height="2.9"/>
<rect x="377.92" y="302.27" width="2.9" height="2.9"/>
<rect x="390.95" y="307.48" width="2.9" height="2.9"/>
<rect x="403.98" y="326.57" width="2.9" height="2.9"/>
<rect x="417" y="326.57" width="2.9" height="2.9"/>
<rect x="430.03" y="331.78" width="2.9" height="2.9"/>
<rect x="443.06" y="324.83" width="2.9" height="2.9"/>
<rect x="456.08" y="326.57" width="2.9" height="2.9"/>
<text x="21.8" y="381.95" font-family="'Liberation Sans', Arial, sans-serif" font-weight="bold" font-size="5.2" fill="#000" stroke="#000" stroke-width="0.18">c) n=10,000</text>
<path d="M21.6 502.76H167.5M21.6 467.61H167.5M21.6 432.46H167.5M21.6 397.31H167.5" stroke="#F6F6F6" stroke-width="0.5" fill="none"/>
<path d="M21.6 520.34H167.5M21.6 485.18H167.5M21.6 450.03H167.5M21.6 414.88H167.5M29.42 393V526.4M42.44 393V526.4M55.47 393V526.4M68.5 393V526.4M81.52 393V526.4M94.55 393V526.4M107.58 393V526.4M120.6 393V526.4M133.63 393V526.4M146.66 393V526.4M159.68 393V526.4" stroke="#F2F2F2" stroke-width="0.7" fill="none"/>
<rect x="21.6" y="384.95" width="145.9" height="8.4" fill="#D9D9D9"/>
<text x="94.55" y="390.97" text-anchor="middle" font-family="'Liberation Sans', Arial, sans-serif" font-size="4.3" fill="#333">dimension 2</text>
<path d="M21.6 526.4H167.5" stroke="#999" stroke-width="1.15" fill="none"/>
<path d="M29.42 526.4v1.4M42.44 526.4v1.4M55.47 526.4v1.4M68.5 526.4v1.4M81.52 526.4v1.4M94.55 526.4v1.4M107.58 526.4v1.4M120.6 526.4v1.4M133.63 526.4v1.4M146.66 526.4v1.4M159.68 526.4v1.4" stroke="#333" stroke-width="0.6" fill="none"/>
<text transform="translate(32.82 531.8) rotate(-45)" text-anchor="end" font-family="'Liberation Sans', Arial, sans-serif" font-size="5.1" fill="#4D4D4D">Proposed</text>
<text transform="translate(45.84 531.8) rotate(-45)" text-anchor="end" font-family="'Liberation Sans', Arial, sans-serif" font-size="5.1" fill="#4D4D4D">CH</text>
<text transform="translate(58.87 531.8) rotate(-45)" text-anchor="end" font-family="'Liberation Sans', Arial, sans-serif" font-size="5.1" fill="#4D4D4D">Silhouette</text>
<text transform="translate(71.9 531.8) rotate(-45)" text-anchor="end" font-family="'Liberation Sans', Arial, sans-serif" font-size="5.1" fill="#4D4D4D">Rubin</text>
<text transform="translate(84.92 531.8) rotate(-45)" text-anchor="end" font-family="'Liberation Sans', Arial, sans-serif" font-size="5.1" fill="#4D4D4D">DB</text>
<text transform="translate(97.95 531.8) rotate(-45)" text-anchor="end" font-family="'Liberation Sans', Arial, sans-serif" font-size="5.1" fill="#4D4D4D">KL</text>
<text transform="translate(110.98 531.8) rotate(-45)" text-anchor="end" font-family="'Liberation Sans', Arial, sans-serif" font-size="5.1" fill="#4D4D4D">Duda</text>
<text transform="translate(124 531.8) rotate(-45)" text-anchor="end" font-family="'Liberation Sans', Arial, sans-serif" font-size="5.1" fill="#4D4D4D">Pseudot2</text>
<text transform="translate(137.03 531.8) rotate(-45)" text-anchor="end" font-family="'Liberation Sans', Arial, sans-serif" font-size="5.1" fill="#4D4D4D">Gap</text>
<text transform="translate(150.06 531.8) rotate(-45)" text-anchor="end" font-family="'Liberation Sans', Arial, sans-serif" font-size="5.1" fill="#4D4D4D">Cindex</text>
<text transform="translate(163.08 531.8) rotate(-45)" text-anchor="end" font-family="'Liberation Sans', Arial, sans-serif" font-size="5.1" fill="#4D4D4D">Dunn</text>
<path d="M21.95 393V526.4" stroke="#A8A8A8" stroke-width="1.3" fill="none"/>
<text x="19.2" y="522.84" text-anchor="end" font-family="'Liberation Sans', Arial, sans-serif" font-size="5.3999999999999995" fill="#4D4D4D">0%</text>
<text x="19.2" y="487.68" text-anchor="end" font-family="'Liberation Sans', Arial, sans-serif" font-size="5.3999999999999995" fill="#4D4D4D">20%</text>
<text x="19.2" y="452.53" text-anchor="end" font-family="'Liberation Sans', Arial, sans-serif" font-size="5.3999999999999995" fill="#4D4D4D">40%</text>
<text x="19.2" y="417.38" text-anchor="end" font-family="'Liberation Sans', Arial, sans-serif" font-size="5.3999999999999995" fill="#4D4D4D">60%</text>
<path d="M20.2 520.34h1.4M20.2 485.18h1.4M20.2 450.03h1.4M20.2 414.88h1.4" stroke="#333" stroke-width="0.6" fill="none"/>
<text transform="translate(7.9 459.7) rotate(-90)" text-anchor="middle" font-family="'Liberation Sans', Arial, sans-serif" font-size="5.6" fill="#000">Success</text>
<polyline points="29.42,404.34 42.44,467.61 55.47,474.64 68.5,495.73 81.52,478.15 94.55,483.43 107.58,471.12 120.6,471.12 133.63,467.61 146.66,495.73 159.68,493.97" stroke="#F8766D" stroke-width="0.9" fill="none" stroke-linejoin="round"/>
<polyline points="29.42,435.97 42.44,492.22 55.47,504.52 68.5,508.03 81.52,504.52 94.55,495.73 107.58,509.79 120.6,509.79 133.63,518.58 146.66,502.76 159.68,513.31" stroke="#00BA38" stroke-width="1.1" fill="none" stroke-linejoin="round"/>
<polyline points="29.42,457.06 42.44,508.03 55.47,511.55 68.5,499.25 81.52,511.55 94.55,508.03 107.58,520.34 120.6,520.34 133.63,520.34 146.66,508.03 159.68,513.31" stroke="#619CFF" stroke-width="0.9" fill="none" stroke-linejoin="round"/>
<circle cx="29.42" cy="404.34" r="1.55"/>
<circle cx="42.44" cy="467.61" r="1.55"/>
<circle cx="55.47" cy="474.64" r="1.55"/>
<circle cx="68.5" cy="495.73" r="1.55"/>
<circle cx="81.52" cy="478.15" r="1.55"/>
<circle cx="94.55" cy="483.43" r="1.55"/>
<circle cx="107.58" cy="471.12" r="1.55"/>
<circle cx="120.6" cy="471.12" r="1.55"/>
<circle cx="133.63" cy="467.61" r="1.55"/>
<circle cx="146.66" cy="495.73" r="1.55"/>
<circle cx="159.68" cy="493.97" r="1.55"/>
<path d="M29.42 434.07L31.22 437.21L27.61 437.21Z"/>
<path d="M42.44 490.32L44.25 493.45L40.64 493.45Z"/>
<path d="M55.47 502.62L57.27 505.75L53.66 505.75Z"/>
<path d="M68.5 506.13L70.3 509.27L66.69 509.27Z"/>
<path d="M81.52 502.62L83.33 505.75L79.72 505.75Z"/>
<path d="M94.55 493.83L96.36 496.97L92.75 496.97Z"/>
<path d="M107.58 507.89L109.38 511.03L105.77 511.03Z"/>
<path d="M120.6 507.89L122.41 511.03L118.8 511.03Z"/>
<path d="M133.63 516.68L135.44 519.81L131.83 519.81Z"/>
<path d="M146.66 500.86L148.46 504L144.85 504Z"/>
<path d="M159.68 511.41L161.49 514.54L157.88 514.54Z"/>
<rect x="27.97" y="455.61" width="2.9" height="2.9"/>
<rect x="40.99" y="506.58" width="2.9" height="2.9"/>
<rect x="54.02" y="510.1" width="2.9" height="2.9"/>
<rect x="67.05" y="497.8" width="2.9" height="2.9"/>
<rect x="80.07" y="510.1" width="2.9" height="2.9"/>
<rect x="93.1" y="506.58" width="2.9" height="2.9"/>
<rect x="106.13" y="518.89" width="2.9" height="2.9"/>
<rect x="119.15" y="518.89" width="2.9" height="2.9"/>
<rect x="132.18" y="518.89" width="2.9" height="2.9"/>
<rect x="145.21" y="506.58" width="2.9" height="2.9"/>
<rect x="158.23" y="511.86" width="2.9" height="2.9"/>
<path d="M170.5 502.76H316.4M170.5 467.61H316.4M170.5 432.46H316.4M170.5 397.31H316.4" stroke="#F6F6F6" stroke-width="0.5" fill="none"/>
<path d="M170.5 520.34H316.4M170.5 485.18H316.4M170.5 450.03H316.4M170.5 414.88H316.4M178.32 393V526.4M191.34 393V526.4M204.37 393V526.4M217.4 393V526.4M230.42 393V526.4M243.45 393V526.4M256.48 393V526.4M269.5 393V526.4M282.53 393V526.4M295.56 393V526.4M308.58 393V526.4" stroke="#F2F2F2" stroke-width="0.7" fill="none"/>
<rect x="170.5" y="384.95" width="145.9" height="8.4" fill="#D9D9D9"/>
<text x="243.45" y="390.97" text-anchor="middle" font-family="'Liberation Sans', Arial, sans-serif" font-size="4.3" fill="#333">dimension 4</text>
<path d="M170.5 526.4H316.4" stroke="#999" stroke-width="1.15" fill="none"/>
<path d="M178.32 526.4v1.4M191.34 526.4v1.4M204.37 526.4v1.4M217.4 526.4v1.4M230.42 526.4v1.4M243.45 526.4v1.4M256.48 526.4v1.4M269.5 526.4v1.4M282.53 526.4v1.4M295.56 526.4v1.4M308.58 526.4v1.4" stroke="#333" stroke-width="0.6" fill="none"/>
<text transform="translate(181.72 531.8) rotate(-45)" text-anchor="end" font-family="'Liberation Sans', Arial, sans-serif" font-size="5.1" fill="#4D4D4D">Proposed</text>
<text transform="translate(194.74 531.8) rotate(-45)" text-anchor="end" font-family="'Liberation Sans', Arial, sans-serif" font-size="5.1" fill="#4D4D4D">CH</text>
<text transform="translate(207.77 531.8) rotate(-45)" text-anchor="end" font-family="'Liberation Sans', Arial, sans-serif" font-size="5.1" fill="#4D4D4D">Silhouette</text>
<text transform="translate(220.8 531.8) rotate(-45)" text-anchor="end" font-family="'Liberation Sans', Arial, sans-serif" font-size="5.1" fill="#4D4D4D">Rubin</text>
<text transform="translate(233.82 531.8) rotate(-45)" text-anchor="end" font-family="'Liberation Sans', Arial, sans-serif" font-size="5.1" fill="#4D4D4D">DB</text>
<text transform="translate(246.85 531.8) rotate(-45)" text-anchor="end" font-family="'Liberation Sans', Arial, sans-serif" font-size="5.1" fill="#4D4D4D">KL</text>
<text transform="translate(259.88 531.8) rotate(-45)" text-anchor="end" font-family="'Liberation Sans', Arial, sans-serif" font-size="5.1" fill="#4D4D4D">Duda</text>
<text transform="translate(272.9 531.8) rotate(-45)" text-anchor="end" font-family="'Liberation Sans', Arial, sans-serif" font-size="5.1" fill="#4D4D4D">Pseudot2</text>
<text transform="translate(285.93 531.8) rotate(-45)" text-anchor="end" font-family="'Liberation Sans', Arial, sans-serif" font-size="5.1" fill="#4D4D4D">Gap</text>
<text transform="translate(298.96 531.8) rotate(-45)" text-anchor="end" font-family="'Liberation Sans', Arial, sans-serif" font-size="5.1" fill="#4D4D4D">Cindex</text>
<text transform="translate(311.98 531.8) rotate(-45)" text-anchor="end" font-family="'Liberation Sans', Arial, sans-serif" font-size="5.1" fill="#4D4D4D">Dunn</text>
<polyline points="178.32,399.06 191.34,472.88 204.37,481.67 217.4,495.73 230.42,483.43 243.45,493.97 256.48,495.73 269.5,495.73 282.53,479.91 295.56,493.97 308.58,509.79" stroke="#F8766D" stroke-width="0.9" fill="none" stroke-linejoin="round"/>
<polyline points="178.32,434.22 191.34,490.46 204.37,499.25 217.4,501 230.42,509.79 243.45,495.73 256.48,508.03 269.5,508.03 282.53,520.34 295.56,509.79 308.58,513.31" stroke="#00BA38" stroke-width="1.1" fill="none" stroke-linejoin="round"/>
<polyline points="178.32,453.55 191.34,493.97 204.37,502.76 217.4,501 230.42,513.31 243.45,508.03 256.48,516.82 269.5,516.82 282.53,520.34 295.56,515.06 308.58,513.31" stroke="#619CFF" stroke-width="0.9" fill="none" stroke-linejoin="round"/>
<circle cx="178.32" cy="399.06" r="1.55"/>
<circle cx="191.34" cy="472.88" r="1.55"/>
<circle cx="204.37" cy="481.67" r="1.55"/>
<circle cx="217.4" cy="495.73" r="1.55"/>
<circle cx="230.42" cy="483.43" r="1.55"/>
<circle cx="243.45" cy="493.97" r="1.55"/>
<circle cx="256.48" cy="495.73" r="1.55"/>
<circle cx="269.5" cy="495.73" r="1.55"/>
<circle cx="282.53" cy="479.91" r="1.55"/>
<circle cx="295.56" cy="493.97" r="1.55"/>
<circle cx="308.58" cy="509.79" r="1.55"/>
<path d="M178.32 432.32L180.12 435.45L176.51 435.45Z"/>
<path d="M191.34 488.56L193.15 491.69L189.54 491.69Z"/>
<path d="M204.37 497.35L206.17 500.48L202.56 500.48Z"/>
<path d="M217.4 499.1L219.2 502.24L215.59 502.24Z"/>
<path d="M230.42 507.89L232.23 511.03L228.62 511.03Z"/>
<path d="M243.45 493.83L245.25 496.97L241.64 496.97Z"/>
<path d="M256.48 506.13L258.28 509.27L254.67 509.27Z"/>
<path d="M269.5 506.13L271.31 509.27L267.7 509.27Z"/>
<path d="M282.53 518.44L284.34 521.57L280.73 521.57Z"/>
<path d="M295.56 507.89L297.36 511.03L293.75 511.03Z"/>
<path d="M308.58 511.41L310.39 514.54L306.78 514.54Z"/>
<rect x="176.87" y="452.1" width="2.9" height="2.9"/>
<rect x="189.89" y="492.52" width="2.9" height="2.9"/>
<rect x="202.92" y="501.31" width="2.9" height="2.9"/>
<rect x="215.95" y="499.55" width="2.9" height="2.9"/>
<rect x="228.97" y="511.86" width="2.9" height="2.9"/>
<rect x="242" y="506.58" width="2.9" height="2.9"/>
<rect x="255.03" y="515.37" width="2.9" height="2.9"/>
<rect x="268.05" y="515.37" width="2.9" height="2.9"/>
<rect x="281.08" y="518.89" width="2.9" height="2.9"/>
<rect x="294.11" y="513.61" width="2.9" height="2.9"/>
<rect x="307.13" y="511.86" width="2.9" height="2.9"/>
<path d="M319.45 502.76H465.35M319.45 467.61H465.35M319.45 432.46H465.35M319.45 397.31H465.35" stroke="#F6F6F6" stroke-width="0.5" fill="none"/>
<path d="M319.45 520.34H465.35M319.45 485.18H465.35M319.45 450.03H465.35M319.45 414.88H465.35M327.27 393V526.4M340.29 393V526.4M353.32 393V526.4M366.35 393V526.4M379.37 393V526.4M392.4 393V526.4M405.43 393V526.4M418.45 393V526.4M431.48 393V526.4M444.51 393V526.4M457.53 393V526.4" stroke="#F2F2F2" stroke-width="0.7" fill="none"/>
<rect x="319.45" y="384.95" width="145.9" height="8.4" fill="#D9D9D9"/>
<text x="392.4" y="390.97" text-anchor="middle" font-family="'Liberation Sans', Arial, sans-serif" font-size="4.3" fill="#333">dimension 6</text>
<path d="M319.45 526.4H465.35" stroke="#999" stroke-width="1.15" fill="none"/>
<path d="M327.27 526.4v1.4M340.29 526.4v1.4M353.32 526.4v1.4M366.35 526.4v1.4M379.37 526.4v1.4M392.4 526.4v1.4M405.43 526.4v1.4M418.45 526.4v1.4M431.48 526.4v1.4M444.51 526.4v1.4M457.53 526.4v1.4" stroke="#333" stroke-width="0.6" fill="none"/>
<text transform="translate(330.67 531.8) rotate(-45)" text-anchor="end" font-family="'Liberation Sans', Arial, sans-serif" font-size="5.1" fill="#4D4D4D">Proposed</text>
<text transform="translate(343.69 531.8) rotate(-45)" text-anchor="end" font-family="'Liberation Sans', Arial, sans-serif" font-size="5.1" fill="#4D4D4D">CH</text>
<text transform="translate(356.72 531.8) rotate(-45)" text-anchor="end" font-family="'Liberation Sans', Arial, sans-serif" font-size="5.1" fill="#4D4D4D">Silhouette</text>
<text transform="translate(369.75 531.8) rotate(-45)" text-anchor="end" font-family="'Liberation Sans', Arial, sans-serif" font-size="5.1" fill="#4D4D4D">Rubin</text>
<text transform="translate(382.77 531.8) rotate(-45)" text-anchor="end" font-family="'Liberation Sans', Arial, sans-serif" font-size="5.1" fill="#4D4D4D">DB</text>
<text transform="translate(395.8 531.8) rotate(-45)" text-anchor="end" font-family="'Liberation Sans', Arial, sans-serif" font-size="5.1" fill="#4D4D4D">KL</text>
<text transform="translate(408.83 531.8) rotate(-45)" text-anchor="end" font-family="'Liberation Sans', Arial, sans-serif" font-size="5.1" fill="#4D4D4D">Duda</text>
<text transform="translate(421.85 531.8) rotate(-45)" text-anchor="end" font-family="'Liberation Sans', Arial, sans-serif" font-size="5.1" fill="#4D4D4D">Pseudot2</text>
<text transform="translate(434.88 531.8) rotate(-45)" text-anchor="end" font-family="'Liberation Sans', Arial, sans-serif" font-size="5.1" fill="#4D4D4D">Gap</text>
<text transform="translate(447.91 531.8) rotate(-45)" text-anchor="end" font-family="'Liberation Sans', Arial, sans-serif" font-size="5.1" fill="#4D4D4D">Cindex</text>
<text transform="translate(460.93 531.8) rotate(-45)" text-anchor="end" font-family="'Liberation Sans', Arial, sans-serif" font-size="5.1" fill="#4D4D4D">Dunn</text>
<polyline points="327.27,407.85 340.29,471.12 353.32,481.67 366.35,486.94 379.37,479.91 392.4,495.73 405.43,499.25 418.45,499.25 431.48,476.4 444.51,497.49 457.53,488.7" stroke="#F8766D" stroke-width="0.9" fill="none" stroke-linejoin="round"/>
<polyline points="327.27,441.25 340.29,488.7 353.32,492.22 366.35,495.73 379.37,502.76 392.4,499.25 405.43,499.25 418.45,499.25 431.48,520.34 444.51,511.55 457.53,509.79" stroke="#00BA38" stroke-width="1.1" fill="none" stroke-linejoin="round"/>
<polyline points="327.27,457.06 340.29,495.73 353.32,499.25 366.35,499.25 379.37,506.28 392.4,509.79 405.43,513.31 418.45,513.31 431.48,520.34 444.51,515.06 457.53,509.79" stroke="#619CFF" stroke-width="0.9" fill="none" stroke-linejoin="round"/>
<circle cx="327.27" cy="407.85" r="1.55"/>
<circle cx="340.29" cy="471.12" r="1.55"/>
<circle cx="353.32" cy="481.67" r="1.55"/>
<circle cx="366.35" cy="486.94" r="1.55"/>
<circle cx="379.37" cy="479.91" r="1.55"/>
<circle cx="392.4" cy="495.73" r="1.55"/>
<circle cx="405.43" cy="499.25" r="1.55"/>
<circle cx="418.45" cy="499.25" r="1.55"/>
<circle cx="431.48" cy="476.4" r="1.55"/>
<circle cx="444.51" cy="497.49" r="1.55"/>
<circle cx="457.53" cy="488.7" r="1.55"/>
<path d="M327.27 439.35L329.07 442.48L325.46 442.48Z"/>
<path d="M340.29 486.8L342.1 489.94L338.49 489.94Z"/>
<path d="M353.32 490.32L355.12 493.45L351.51 493.45Z"/>
<path d="M366.35 493.83L368.15 496.97L364.54 496.97Z"/>
<path d="M379.37 500.86L381.18 504L377.57 504Z"/>
<path d="M392.4 497.35L394.2 500.48L390.59 500.48Z"/>
<path d="M405.43 497.35L407.23 500.48L403.62 500.48Z"/>
<path d="M418.45 497.35L420.26 500.48L416.65 500.48Z"/>
<path d="M431.48 518.44L433.29 521.57L429.68 521.57Z"/>
<path d="M444.51 509.65L446.31 512.78L442.7 512.78Z"/>
<path d="M457.53 507.89L459.34 511.03L455.73 511.03Z"/>
<rect x="325.82" y="455.61" width="2.9" height="2.9"/>
<rect x="338.84" y="494.28" width="2.9" height="2.9"/>
<rect x="351.87" y="497.8" width="2.9" height="2.9"/>
<rect x="364.9" y="497.8" width="2.9" height="2.9"/>
<rect x="377.92" y="504.83" width="2.9" height="2.9"/>
<rect x="390.95" y="508.34" width="2.9" height="2.9"/>
<rect x="403.98" y="511.86" width="2.9" height="2.9"/>
<rect x="417" y="511.86" width="2.9" height="2.9"/>
<rect x="430.03" y="518.89" width="2.9" height="2.9"/>
<rect x="443.06" y="513.61" width="2.9" height="2.9"/>
<rect x="456.08" y="508.34" width="2.9" height="2.9"/>
</svg>
</body></html>
